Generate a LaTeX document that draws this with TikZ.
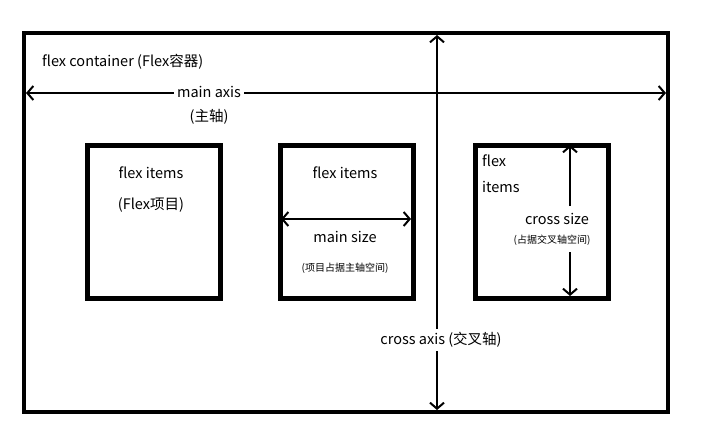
\documentclass[tikz,border=0pt]{standalone}
\usepackage{fontspec}
\setmainfont{Noto Sans CJK SC}
\usetikzlibrary{arrows.meta}
\begin{document}
\begin{tikzpicture}[x=1pt,y=-1pt,
  box/.style={draw,line width=4.5pt,minimum width=133pt,minimum height=153pt,anchor=north west},
  tp/.tip={Straight Barb[length=6pt,width=14pt,line width=2pt]},
  ax/.style={line width=2.5pt,tp-tp},
  one/.style={line width=2pt,-tp},
  lbl/.style={font=\fontsize{14.5}{16}\selectfont,inner sep=1pt},
  sm/.style={font=\fontsize{10}{12}\selectfont,inner sep=1pt}]
\useasboundingbox (0,0) rectangle (724,434);
\draw[line width=4pt] (24,33) rectangle (668,412);
\coordinate (L) at (26,93); \coordinate (R) at (666,93);
\coordinate (T) at (437,35); \coordinate (B) at (437,410);
\node[lbl,anchor=west] (fc) at (41,62) {flex container (Flex容器)};
\node[lbl] (mac) at (209,117) {(主轴)};
\draw[ax] (L) -- (R);
\draw[ax] (T) -- (B);
\node[lbl,fill=white,inner sep=3pt] (ma) at (209,92) {main axis};
\node[lbl,fill=white,inner sep=3pt] (ca) at (441,340) {cross axis (交叉轴)};
% boxes
\node[box] (b1) at (85,143) {};
\node[box] (b2) at (278,143) {};
\node[box] (b3) at (473,143) {};
\node[lbl] (t1) at (151,173) {flex items};
\node[lbl] (t1b) at (151,205) {(Flex项目)};
\node[lbl] (t2) at (345,173) {flex items};
\coordinate (m1) at (281,219); \coordinate (m2) at (411,219);
\draw[ax,line width=2pt] (m1) -- (m2);
\node[lbl] (ms) at (345,237) {main size};
\node[sm] (msc) at (345,268) {(项目占据主轴空间)};
\node[lbl,anchor=west] (f3) at (481,161) {flex};
\node[lbl,anchor=west] (f3b) at (481,187) {items};
\node[lbl] (cs) at (557,219) {cross size};
\node[sm] (csc) at (552,240) {(占据交叉轴空间)};
\coordinate (c1) at (570,145); \coordinate (c2) at (570,296);
\coordinate (g1) at (570,206); \coordinate (g2) at (570,252);
\draw[one] (g1) -- (c1);
\draw[one] (g2) -- (c2);
\end{tikzpicture}
\end{document}
